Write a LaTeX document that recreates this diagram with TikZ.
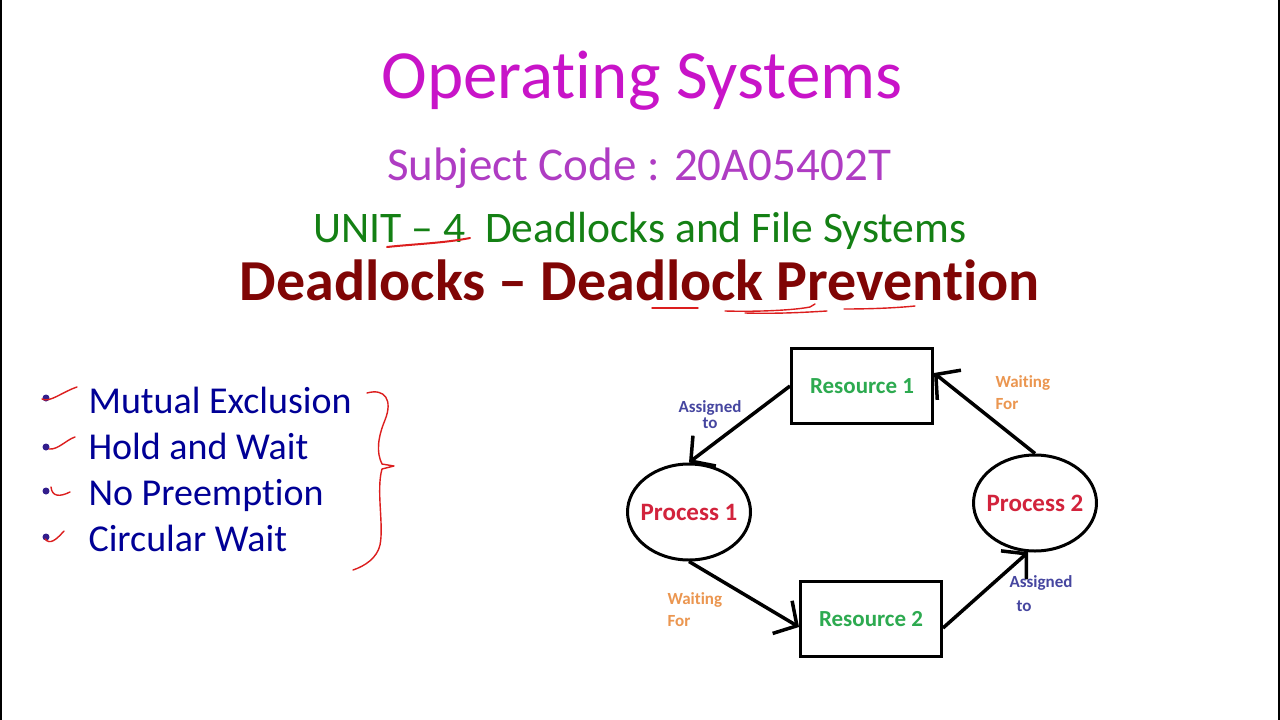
\documentclass[tikz,border=0pt]{standalone}
\usepackage{fontspec}
\setmainfont{Carlito}[Ligatures=NoCommon]
\usetikzlibrary{arrows.meta,shapes.geometric,positioning}

\definecolor{titlemag}{RGB}{200,20,200}
\definecolor{codepurple}{RGB}{175,60,195}
\definecolor{unitgreen}{RGB}{20,128,20}
\definecolor{headred}{RGB}{128,5,5}
\definecolor{listblue}{RGB}{0,0,150}
\definecolor{dotblue}{RGB}{50,30,140}
\definecolor{resgreen}{RGB}{45,170,80}
\definecolor{procred}{RGB}{210,35,60}
\definecolor{asgblue}{RGB}{70,70,160}
\definecolor{waitorange}{RGB}{235,150,80}
\definecolor{penred}{RGB}{220,30,30}

\tikzset{
  res/.style={draw, line width=3pt, minimum width=141pt, minimum height=75pt,
    text=resgreen, font=\bfseries\fontsize{23}{24}\selectfont},
  proc/.style={ellipse, draw, line width=3pt, inner sep=-6pt,
    minimum width=123pt, minimum height=96pt,
    text=procred, font=\bfseries\fontsize{25}{26}\selectfont},
  arr/.style={line width=3.5pt, -{Straight Barb[length=17pt,width=38pt,line width=3.5pt]}},
  asg/.style={text=asgblue, font=\bfseries\fontsize{17}{16}\selectfont, align=center},
  wait/.style={text=waitorange, font=\bfseries\fontsize{17}{22}\selectfont, align=left},
  item/.style={anchor=base west, text=listblue, font=\fontsize{38}{40}\selectfont},
  pen/.style={penred, line width=1.4pt, line cap=round, line join=round},
}

\begin{document}
\begin{tikzpicture}[x=1pt, y=-1pt]
    \useasboundingbox (0,0) rectangle (1280,720);
    \fill[white] (0,0) rectangle (1280,720);
    % thin dark edges of the slide
    \fill[black] (0,0) rectangle (2,720);
    \fill[black] (1278,0) rectangle (1280,720);

    % Headings
    \node[anchor=base, text=titlemag, font=\fontsize{69}{72}\selectfont] (title) at (642,98) {Operating Systems};
    \node[anchor=base, text=codepurple, font=\fontsize{47}{50}\selectfont] (code) at (639,180) {Subject Code : 20A05402T};
    \node[anchor=base, text=unitgreen, font=\fontsize{43.6}{46}\selectfont] (unit) at (640,242) {UNIT -- 4\ \ Deadlocks and File Systems};
    \node[anchor=base, text=headred, font=\bfseries\fontsize{58}{60}\selectfont] (topic) at (640,300) {Deadlocks -- Deadlock Prevention};

    % The four conditions
    \node[item] (mutex) at (85,413) {Mutual Exclusion};
    \node[item] (hold) at (85,459) {Hold and Wait};
    \node[item] (nopre) at (85,505) {No Preemption};
    \node[item] (circ) at (85,551) {Circular Wait};
    \foreach \y in {398,447,491,537}
        \fill[dotblue] (46,\y) circle (3.5);

    % Resource allocation cycle
    \node[res] (r1) at (862,386) {Resource 1};
    \node[res] (r2) at (871,619) {Resource 2};
    \node[proc] (p1) at (689,512) {Process 1};
    \node[proc] (p2) at (1035,503) {Process 2};

    \draw[arr] (r1.west) -- (p1.north);
    \draw[arr] (p2.north) -- ([yshift=13pt]r1.east);
    \draw[arr] (p1.south) -- ([yshift=-8pt]r2.west);
    \draw[arr] ([yshift=-9pt]r2.east) -- (p2.-98);

    \node[asg] (asg1) at (710,415) {Assigned\\to};
    \node[wait, anchor=base west] (wait1) at (992,409) {Waiting\\For};
    \node[wait, anchor=base west] (wait2) at (664,626) {Waiting\\For};
    \node[asg, anchor=base west, align=left, font=\bfseries\fontsize{17}{24}\selectfont] (asg2) at (1006,611) {Assigned\\\hspace*{7pt}to};

    % Red pen marks
    \draw[pen] (42,399) .. controls (50,403) and (62,392) .. (77,387);
    \draw[pen] (49,449) .. controls (58,450) and (66,440) .. (75,437);
    \draw[pen] (51,487) .. controls (52,497) and (60,497) .. (70,492);
    \draw[pen] (45,539) .. controls (50,545) and (56,540) .. (64,531);
    \draw[pen] (367,393) .. controls (385,388) and (393,400) .. (385,420)
        .. controls (378,437) and (376,452) .. (382,464) -- (394,466) -- (382,469)
        .. controls (376,490) and (384,525) .. (380,545)
        .. controls (377,558) and (365,566) .. (353,570);
    \draw[pen, line width=2pt] (387,247) .. controls (415,244) and (445,243) .. (470,238);
    \draw[pen] (652,308) -- (698,308);
    \draw[pen] (725,311) .. controls (760,312) and (795,310) .. (810,307) -- (815,304);
    \draw[pen] (745,313) .. controls (780,314) and (810,312) .. (827,311);
    \draw[pen] (844,309) .. controls (870,309) and (895,308) .. (915,306);
\end{tikzpicture}
\end{document}
